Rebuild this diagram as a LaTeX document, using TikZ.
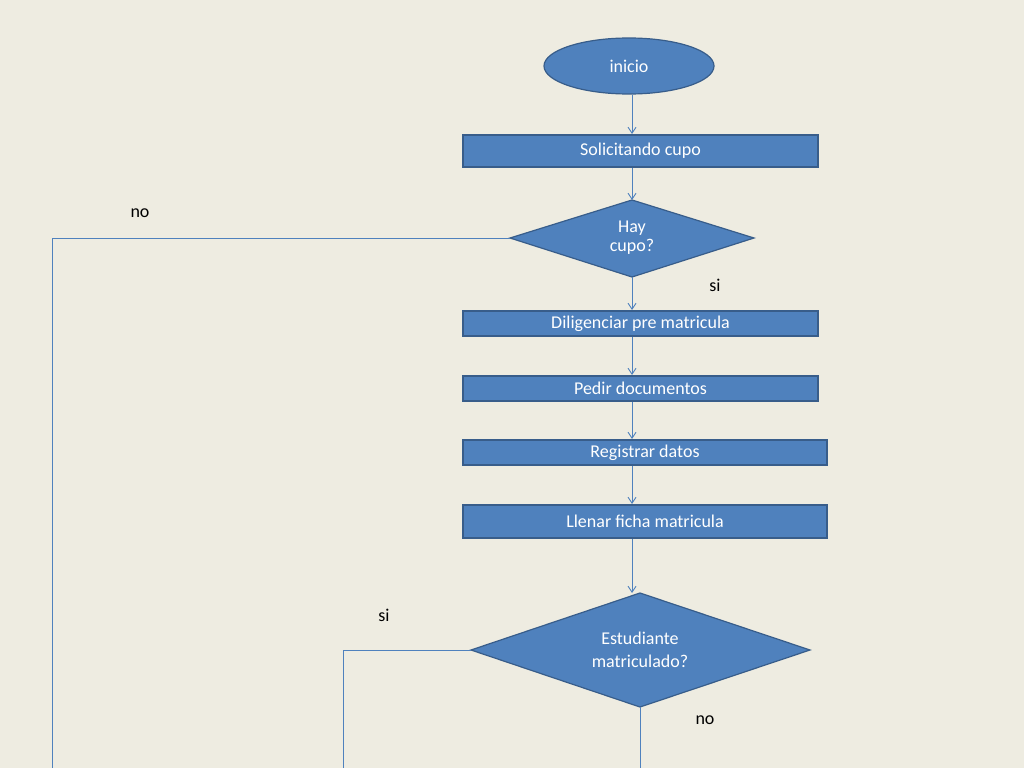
\documentclass[tikz,border=0pt]{standalone}
\usepackage{fontspec}
\setmainfont{Carlito}
\usetikzlibrary{shapes.geometric,arrows.meta}
\definecolor{bg}{HTML}{EEECE1}
\definecolor{fillb}{HTML}{4F81BD}
\definecolor{edge}{HTML}{385D8A}
\begin{document}
\begin{tikzpicture}[x=1pt,y=-1pt,
  box/.style={draw=edge,fill=fillb,line width=1.2pt,text=white,font=\fontsize{18}{21}\selectfont,inner sep=0pt},
  dia/.style={box,diamond,aspect=2.2},
  lbl/.style={font=\fontsize{18}{21}\selectfont,text=black},
  con/.style={draw=fillb,line width=0.9pt},
  arr/.style={con,-{Straight Barb[length=6pt,width=8pt]}}]
\fill[bg] (0,0) rectangle (1024,768);
\useasboundingbox (0,0) rectangle (1024,768);
\node[box,ellipse,minimum width=170pt,minimum height=56pt] (ini) at (629,66) {inicio};
\node[box,minimum width=355pt,minimum height=32pt] (sol) at (640.5,151) {Solicitando cupo};
\node[box,diamond,minimum width=0pt,inner sep=0pt] (hay) at (632,238) {};
\draw[box] (510,238) -- (632,200) -- (754,238) -- (632,277) -- cycle;
\node[lbl,text=white,align=center] at (632,238) {Hay\\[-2pt]cupo?};
\coordinate (hayL) at (510,238);
\coordinate (hayT) at (632,200);
\coordinate (hayB) at (632,277);
\node[box,minimum width=355pt,minimum height=25pt] (dil) at (640.5,323.5) {Diligenciar pre matricula};
\node[box,minimum width=355pt,minimum height=25pt] (ped) at (640.5,388.5) {Pedir documentos};
\node[box,minimum width=364pt,minimum height=25pt] (reg) at (645,452.5) {Registrar datos};
\node[box,minimum width=364pt,minimum height=33pt] (lle) at (645,521.5) {Llenar ficha matricula};
\draw[box] (471,650) -- (640,593) -- (810,650) -- (640,707) -- cycle;
\node[lbl,text=white,align=center] (est) at (640,650) {Estudiante\\[2pt]matriculado?};
\coordinate (estL) at (471,650);
\coordinate (estT) at (632,593);
\coordinate (estB) at (640,707);
\coordinate (e1) at (52,768);
\coordinate (e2) at (343,768);
\coordinate (e3) at (640,768);
\draw[arr] (ini.south -| 632,0) -- (632,134);
\draw[arr] (632,168) -- (hayT);
\draw[arr] (hayB) -- (632,310);
\draw[arr] (632,337) -- (632,375);
\draw[arr] (632,402) -- (632,439);
\draw[arr] (632,466) -- (632,504);
\draw[arr] (632,539) -- (estT);
\draw[con] (hayL) -- (52,238) -- (e1);
\draw[con] (estL) -- (343,650) -- (e2);
\draw[con] (estB) -- (e3);
\node[lbl] at (140,213) {no};
\node[lbl] at (715,285) {si};
\node[lbl] at (384,615) {si};
\node[lbl] at (705,720) {no};
\end{tikzpicture}
\end{document}
